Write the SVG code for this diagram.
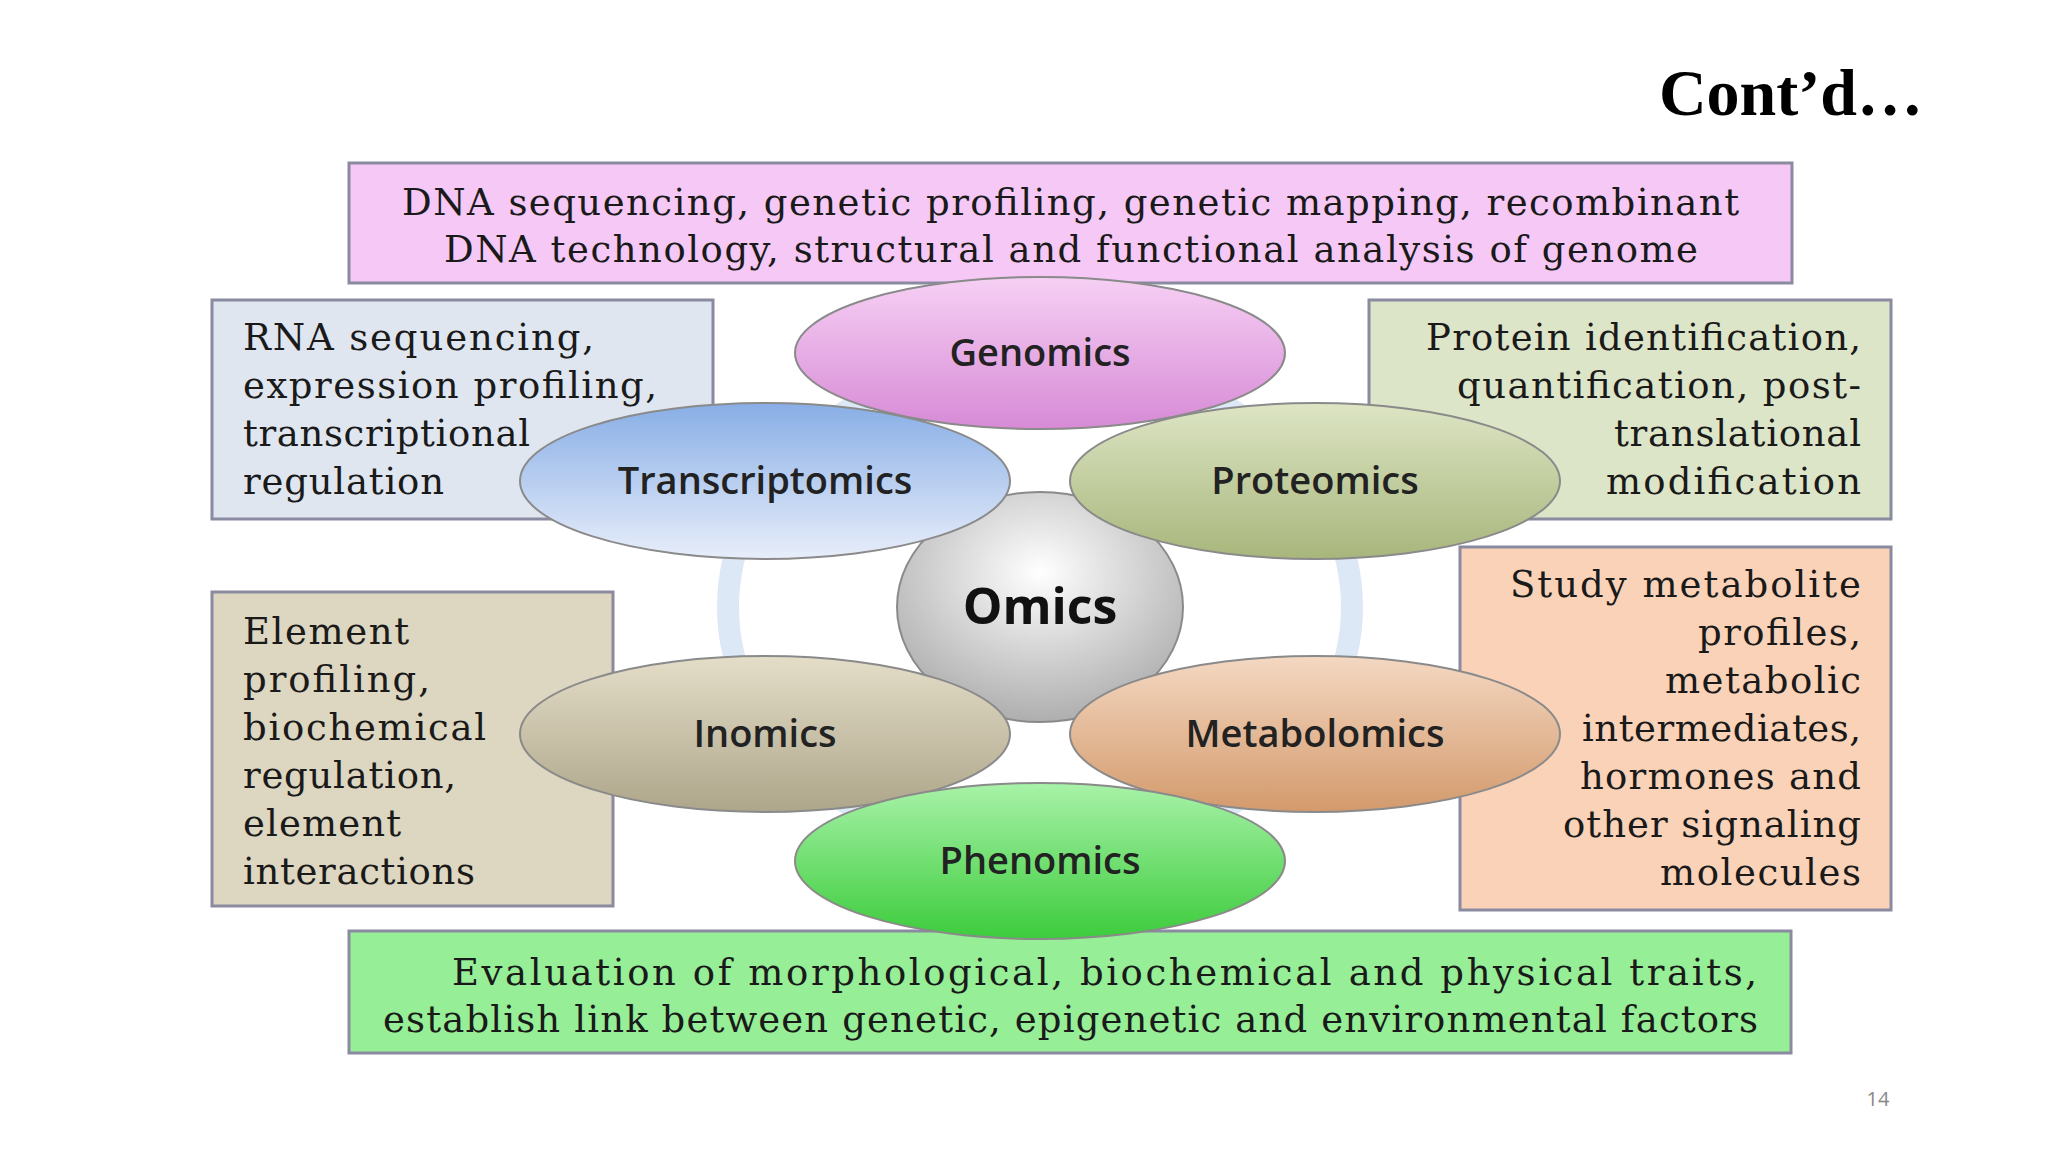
<svg xmlns="http://www.w3.org/2000/svg" width="2048" height="1152" viewBox="0 0 2048 1152">
<style>
.box{stroke:#8a8aa0;stroke-width:3}
.bt{font-family:"DejaVu Serif","Liberation Serif",serif;font-size:37px;fill:#1a1a1a}
.el{font-family:"Open Sans","Noto Sans",sans-serif;font-size:38px;font-weight:600;fill:#222;text-anchor:middle}
.es{stroke:#8a8a8a;stroke-width:2}
</style>
<defs>
<linearGradient id="gp" x1="0" y1="0" x2="0" y2="1"><stop offset="0" stop-color="#f6d0f4"/><stop offset="1" stop-color="#d78ad6"/></linearGradient>
<linearGradient id="gb" x1="0" y1="0" x2="0" y2="1"><stop offset="0" stop-color="#88aee6"/><stop offset="1" stop-color="#e8eefa"/></linearGradient>
<linearGradient id="gg" x1="0" y1="0" x2="0" y2="1"><stop offset="0" stop-color="#dde5c4"/><stop offset="1" stop-color="#a8b67c"/></linearGradient>
<linearGradient id="gi" x1="0" y1="0" x2="0" y2="1"><stop offset="0" stop-color="#e4ddc8"/><stop offset="1" stop-color="#aea68a"/></linearGradient>
<linearGradient id="gm" x1="0" y1="0" x2="0" y2="1"><stop offset="0" stop-color="#f4d8c2"/><stop offset="1" stop-color="#d39a6c"/></linearGradient>
<linearGradient id="gn" x1="0" y1="0" x2="0" y2="1"><stop offset="0" stop-color="#a8f2a8"/><stop offset="1" stop-color="#3ccc3c"/></linearGradient>
<radialGradient id="go" cx="0.5" cy="0.35" r="0.7"><stop offset="0" stop-color="#ffffff"/><stop offset="1" stop-color="#a8a8a8"/></radialGradient>
</defs>
<rect width="2048" height="1152" fill="#fff"/>
<text x="1923" y="115" font-family="Liberation Serif,serif" font-size="66" font-weight="bold" text-anchor="end">Cont’d…</text>
<g id="connectors"><ellipse cx="1040" cy="607" rx="312" ry="250" fill="none" stroke="#dde8f6" stroke-width="22"/></g>
<g id="box-genome"><rect class="box" x="349" y="163" width="1443" height="120" fill="#f5c8f5"/>
<text class="bt" x="402" y="215" textLength="1337" lengthAdjust="spacing">DNA sequencing, genetic profiling, genetic mapping, recombinant</text>
<text class="bt" x="444" y="262" textLength="1254" lengthAdjust="spacing">DNA technology, structural and functional analysis of genome</text></g>
<g id="box-rna"><rect class="box" x="212" y="300" width="501" height="219" fill="#dfe6f0"/>
<text class="bt" x="243" y="350" textLength="351">RNA sequencing,</text><text class="bt" x="243" y="398" textLength="414">expression profiling,</text><text class="bt" x="243" y="446" textLength="287">transcriptional</text><text class="bt" x="243" y="494" textLength="201">regulation</text></g>
<g id="box-protein"><rect class="box" x="1369" y="300" width="522" height="219" fill="#dde5c8"/>
<g text-anchor="end"><text class="bt" x="1861" y="350" textLength="435">Protein identification,</text><text class="bt" x="1861" y="398" textLength="404">quantification, post-</text><text class="bt" x="1861" y="446" textLength="247">translational</text><text class="bt" x="1861" y="494" textLength="255">modification</text></g></g>
<g id="box-element"><rect class="box" x="212" y="592" width="401" height="314" fill="#ddd6c0"/>
<text class="bt" x="243" y="644" textLength="166">Element</text><text class="bt" x="243" y="692" textLength="187">profiling,</text><text class="bt" x="243" y="740" textLength="243">biochemical</text><text class="bt" x="243" y="788" textLength="213">regulation,</text><text class="bt" x="243" y="836" textLength="158">element</text><text class="bt" x="243" y="884" textLength="232">interactions</text></g>
<g id="box-metab"><rect class="box" x="1460" y="547" width="431" height="363" fill="#f9d2b8"/>
<g text-anchor="end"><text class="bt" x="1861" y="597" textLength="351">Study  metabolite</text><text class="bt" x="1861" y="645" textLength="163">profiles,</text><text class="bt" x="1861" y="693" textLength="196">metabolic</text><text class="bt" x="1861" y="741" textLength="279">intermediates,</text><text class="bt" x="1861" y="789" textLength="281">hormones and</text><text class="bt" x="1861" y="837" textLength="298">other signaling</text><text class="bt" x="1861" y="885" textLength="201">molecules</text></g></g>
<g id="box-phenome"><rect class="box" x="349" y="931" width="1442" height="122" fill="#96ee96"/>
<text class="bt" x="452" y="985" textLength="1305" lengthAdjust="spacing">Evaluation of morphological, biochemical and physical traits,</text>
<text class="bt" x="383" y="1032" textLength="1375" lengthAdjust="spacing">establish link between genetic, epigenetic and environmental factors</text></g>
<g id="omics"><ellipse class="es" cx="1040" cy="607" rx="143" ry="115" fill="url(#go)"/><text x="1040" y="624" font-family="Open Sans,sans-serif" font-size="50" font-weight="bold" text-anchor="middle" fill="#111">Omics</text></g>
<g id="genomics"><ellipse class="es" cx="1040" cy="353" rx="245" ry="76" fill="url(#gp)"/><text class="el" x="1040" y="366">Genomics</text></g>
<g id="transcriptomics"><ellipse class="es" cx="765" cy="481" rx="245" ry="78" fill="url(#gb)"/><text class="el" x="765" y="494">Transcriptomics</text></g>
<g id="proteomics"><ellipse class="es" cx="1315" cy="481" rx="245" ry="78" fill="url(#gg)"/><text class="el" x="1315" y="494">Proteomics</text></g>
<g id="inomics"><ellipse class="es" cx="765" cy="734" rx="245" ry="78" fill="url(#gi)"/><text class="el" x="765" y="747">Inomics</text></g>
<g id="metabolomics"><ellipse class="es" cx="1315" cy="734" rx="245" ry="78" fill="url(#gm)"/><text class="el" x="1315" y="747">Metabolomics</text></g>
<g id="phenomics"><ellipse class="es" cx="1040" cy="861" rx="245" ry="78" fill="url(#gn)"/><text class="el" x="1040" y="874">Phenomics</text></g>
<text x="1878" y="1106" font-family="Open Sans,sans-serif" font-size="20" fill="#888" text-anchor="middle">14</text>
</svg>
